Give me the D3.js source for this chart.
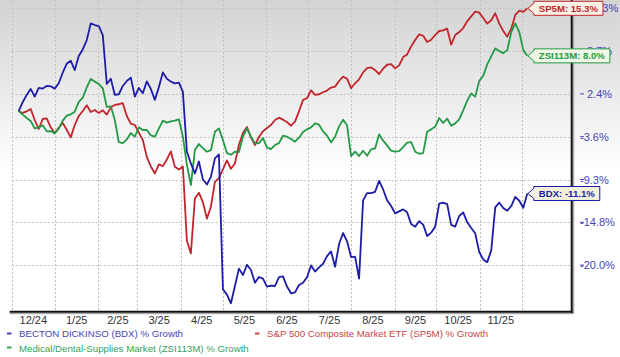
<!DOCTYPE html>
<html><head><meta charset="utf-8">
<script src="https://cdn.jsdelivr.net/npm/d3@7"></script>
<style>
body{margin:0;background:#fff}
svg{display:block;font-family:"Liberation Sans",Arial,sans-serif}
</style></head>
<body><svg id="c" width="620" height="357"></svg>
<script>
// ---- data (percent growth, sampled evenly from 2024-12-06 to 2025-12-05) ----
const startDate = new Date(2024, 11, 6);
const endDate = new Date(2025, 11, 5);

const bdxValues = [0, 1.23, 2.26, 3.13, 2.02, 3.28, 3.18, 3.57, 3.52, 3.18, 3.96, 5.52, 6.84, 7.28, 5.91, 7.97, 8.96, 10.40, 12.98, 12.72,
  12.57, 11.18, 3.86, 4.64, 2.26, 2.35, 3.57, 4.30, 4.79, 2.02, 3.28, 2.50, 4.25, 3.13, 1.56, 3.38, 5.57, 4.64, 4.21, 3.96,
  4.06, 2.69, -5.60, -7.16, -8.50, -6.90, -9.3, -9.94, -8.94, -6.49, -5.96,
  -22.93, -23.59, -24.64, -22.54, -20.43, -21.21, -19.96, -20.59, -22.15, -21.45, -21.64, -22.61, -22.50, -22.54, -21.45, -21.37, -22.61, -23.43, -23.32, -22.42,
  -22.15, -21.48, -20.04, -20.78, -20.27, -19.84, -18.90, -18.33, -20.2, -17.44, -16.10, -17.11, -19.02, -18.98, -21.64, -11.98, -11.05, -11.05, -10.88, -9.47,
  -10.58, -11.98, -12.71, -13.65, -13.39, -13.14, -13.52, -15.0, -15.33, -14.67, -15.08, -16.47, -16.06, -15.33, -12.41, -12.28, -12.46, -15.12, -15.33, -13.99,
  -13.52, -14.8, -15.49, -16.14, -18.41, -19.31, -19.64, -18.21, -12.88, -12.28, -12.97, -13.31, -12.71, -11.52, -12.03, -12.93, -11.1];

const sp5mValues = [0, -0.27, -0.04, 0.29, -1.26, -2.52, -1.12, -1.02, -2.29, -3.13, -2.34, -1.68, -2.62, -3.69, -1.96, -0.70, 0.01, 0.81, -0.13, 0.15,
  -0.27, 0.10, -0.51, 0.52, 0.85, 0.95, 1.09, -0.70, -1.77, -1.96, -3.04, -4.05, -6.32, -7.56, -8.50, -7.29, -7.52, -6.63, -5.56, -7.61,
  -7.96, -7.56, -17.04, -18.58, -11.73, -11.0, -12.20, -14.33, -12.80, -9.60, -9.12,
  -7.96, -6.76, -7.87, -7.16, -4.67, -3.08, -2.24, -3.69, -4.71, -3.64, -2.85, -2.38, -1.96, -1.26, -0.93, -1.21, -1.54, -2.06, -1.49, -0.04,
  1.56, 1.79, 2.94, 2.26, 2.35, 2.64, 2.89, 3.33, 3.47, 4.30, 4.94, 4.64, 3.23, 3.96, 4.55, 5.57, 6.21, 6.30, 5.91, 5.33,
  6.11, 6.69, 6.79, 6.16, 6.60, 7.82, 8.21, 9.42, 10.40, 11.28, 11.07, 10.09, 10.45, 11.18, 11.80, 11.90, 12.16, 9.68, 11.18, 11.64,
  12.26, 13.29, 14.06, 14.78, 14.63, 13.81, 12.93, 13.45, 14.53, 12.93, 11.80, 10.92, 12.16, 14.27, 14.94, 14.74, 15.3];

const zsiValues = [0, -0.51, -0.98, -1.40, -2.43, -2.29, -2.01, -2.85, -2.81, -3.13, -2.48, -1.35, -0.65, -0.46, -0.09, 1.27, 1.88, 3.38, 4.60, 4.21,
  3.86, 3.23, 0.57, 0.66, -1.26, -4.31, -4.45, -3.96, -3.09, -3.6, -2.29, -2.66, -2.66, -3.41, -3.6, -2.48, -1.35, -1.63, -1.45, -1.35,
  -1.16, -3.6, -7.34, -10.02, -5.38, -4.58, -5.12, -5.60, -5.38, -2.90, -2.43,
  -4.05, -5.78, -6.0, -5.60, -5.65, -3.6, -2.43, -3.6, -4.49, -4.45, -3.78, -5.03, -5.25, -4.71, -4.45, -3.46, -3.6, -3.91, -4.27, -3.73,
  -2.94, -2.57, -2.29, -1.73, -1.92, -2.85, -3.46, -4.36, -3.6, -2.15, -1.21, -2.01, -6.18, -5.60, -6.18, -5.47, -6.14, -5.29, -5.16, -3.27,
  -4.13, -4.76, -5.47, -5.60, -5.51, -4.98, -4.40, -4.31, -5.60, -5.87, -5.78, -2.90, -2.57, -2.20, -0.98, -1.68, -1.07, -2.06, -1.73, -1.16,
  0.10, 1.46, 2.45, 2.02, 4.30, 5.08, 6.74, 7.92, 9.11, 8.7, 8.41, 8.85, 11.64, 12.98, 11.64, 8.85, 8.0];

const yTickValues = [15.3, 8.7, 2.4, -3.6, -9.3, -14.8, -20.0];
const yTickLabels = ["15.3%", "8.7%", "2.4%", "-3.6%", "-9.3%", "-14.8%", "-20.0%"];
const xTickLabels = ["12/24", "1/25", "2/25", "3/25", "4/25", "5/25", "6/25", "7/25", "8/25", "9/25", "10/25", "11/25"];

const seriesNames = ["SP5M", "ZSI113M", "BDX"];
const calloutLabels = ["SP5M: 15.3%", "ZSI113M: 8.0%", "BDX: -11.1%"];
const legendLabels = ["BECTON DICKINSO (BDX) % Growth", "S&P 500 Composite Market ETF (SP5M) % Growth", "Medical/Dental-Supplies Market (ZSI113M) % Growth"];

// ---- layout ----
const svg = d3.select("#c");
const plotLeft = 11.7, plotRight = 571.7, plotBottom = 311.7;
const gridTop = 8.3, gridStep = 42.8;

const defs = svg.append("defs");
const grad = defs.append("linearGradient").attr("id", "bg").attr("x1", 0).attr("y1", 0).attr("x2", 0).attr("y2", 1);
grad.append("stop").attr("offset", 0).attr("stop-color", "#d3d3d3");
grad.append("stop").attr("offset", 0.55).attr("stop-color", "#ffffff");
svg.append("rect").attr("x", 0).attr("y", 0).attr("width", 620).attr("height", plotBottom).attr("fill", "url(#bg)");

const x = d3.scaleTime().domain([new Date(2024, 11, 1), new Date(2025, 11, 1)]).range([plotLeft, 521.7]);
const y = d3.scaleLinear().domain(yTickValues).range(yTickValues.map((d, i) => gridTop + i * gridStep));
const idxToDate = d3.scaleLinear().domain([0, bdxValues.length - 1]).range([startDate, endDate]);

// grid
const monthLines = d3.timeMonth.range(new Date(2024, 11, 1), new Date(2025, 11, 2));
const grid = svg.append("g").attr("stroke", "#c2c2c2").attr("stroke-width", 1).attr("stroke-dasharray", "2,2").attr("fill", "none");
grid.selectAll("line.v").data(monthLines).join("line").attr("class", "v")
  .attr("x1", d => Math.round(x(d)) + 0.5).attr("x2", d => Math.round(x(d)) + 0.5)
  .attr("y1", 0).attr("y2", plotBottom);
grid.selectAll("line.h").data(yTickValues).join("line").attr("class", "h")
  .attr("x1", plotLeft).attr("x2", plotRight)
  .attr("y1", d => Math.round(y(d)) + 0.5).attr("y2", d => Math.round(y(d)) + 0.5);

// x labels (mid-month)
const labelMonths = d3.timeMonth.range(new Date(2024, 11, 1), new Date(2025, 11, 1));
svg.append("g").selectAll("text").data(labelMonths).join("text")
  .attr("x", d => (x(d) + x(d3.timeMonth.offset(d, 1))) / 2)
  .attr("y", 323.5).attr("text-anchor", "middle")
  .attr("font-size", 11).attr("fill", "#333")
  .text((d, i) => xTickLabels[i]);

// y labels on right
const yl = svg.append("g");
yl.selectAll("line").data(yTickValues).join("line")
  .attr("x1", 580).attr("x2", 584).attr("y1", d => y(d)).attr("y2", d => y(d))
  .attr("stroke", "#4444b8").attr("stroke-width", 1);
yl.selectAll("text").data(yTickValues).join("text")
  .attr("x", d => d >= 0 ? 587 : 580).attr("y", d => y(d) + 4)
  .attr("font-size", 11).attr("fill", "#4444b8")
  .text((d, i) => yTickLabels[i]);

// lines
const colors = { SP5M: "#c0262c", ZSI113M: "#239a45", BDX: "#1c1ca8" };
const seriesData = { SP5M: sp5mValues, ZSI113M: zsiValues, BDX: bdxValues };
const line = d3.line().x((d, i) => x(idxToDate(i))).y(d => y(d));
seriesNames.forEach(name => {
  svg.append("path").datum(seriesData[name]).attr("d", line)
    .attr("fill", "none").attr("stroke", colors[name]).attr("stroke-width", 1.8)
    .attr("stroke-linejoin", "round");
});

// axes frame with shadow
svg.append("line").attr("x1", plotLeft - 2).attr("x2", plotRight + 2).attr("y1", plotBottom + 1.8).attr("y2", plotBottom + 1.8).attr("stroke", "#aaa").attr("stroke-width", 1.5);
svg.append("line").attr("x1", plotRight + 1.8).attr("x2", plotRight + 1.8).attr("y1", 2).attr("y2", plotBottom + 2).attr("stroke", "#aaa").attr("stroke-width", 1.5);
svg.append("line").attr("x1", plotLeft - 2).attr("x2", plotRight + 1).attr("y1", plotBottom).attr("y2", plotBottom).attr("stroke", "#111").attr("stroke-width", 2);
svg.append("line").attr("x1", plotRight).attr("x2", plotRight).attr("y1", 0).attr("y2", plotBottom + 1).attr("stroke", "#111").attr("stroke-width", 2);

// callouts
const calloutFill = { SP5M: "#fcf1e7", ZSI113M: "#f1f7e6", BDX: "#f2efdb" };
seriesNames.forEach((name, k) => {
  const vals = seriesData[name];
  const last = vals.length - 1;
  const tx = x(idxToDate(last)) + 0.5;
  const ty = y(vals[last]);
  const g = svg.append("g");
  const t = g.append("text").attr("font-size", 9.6).attr("font-weight", "bold")
    .attr("fill", colors[name]).text(calloutLabels[k]);
  const w = t.node().getComputedTextLength() + 10;
  const bx = tx + 6;
  const top = Math.max(1, ty - 7), bot = top + 14;
  const cy = (top + bot) / 2;
  g.insert("path", "text")
    .attr("d", `M${tx},${cy} L${bx},${cy - 5} L${bx},${top} L${bx + w},${top} L${bx + w},${bot} L${bx},${bot} L${bx},${cy + 5} Z`)
    .attr("fill", calloutFill[name]).attr("stroke", colors[name]).attr("stroke-width", 1);
  t.attr("x", bx + 5).attr("y", cy + 3.5);
});

// legend
const legendColors = ["#4646ae", "#c64646", "#36a05c"];
const legendPos = [[7, 333.5, 19, 337], [255, 333.5, 267, 337], [7, 347.5, 19, 351.5]];
const lg = svg.append("g");
legendLabels.forEach((lab, i) => {
  const p = legendPos[i];
  lg.append("line").attr("x1", p[0]).attr("x2", p[0] + 4.5).attr("y1", p[1]).attr("y2", p[1])
    .attr("stroke", legendColors[i]).attr("stroke-width", 2);
  lg.append("text").attr("x", p[2]).attr("y", p[3]).attr("font-size", 9.7)
    .attr("fill", legendColors[i]).text(lab);
});
</script></body></html>
